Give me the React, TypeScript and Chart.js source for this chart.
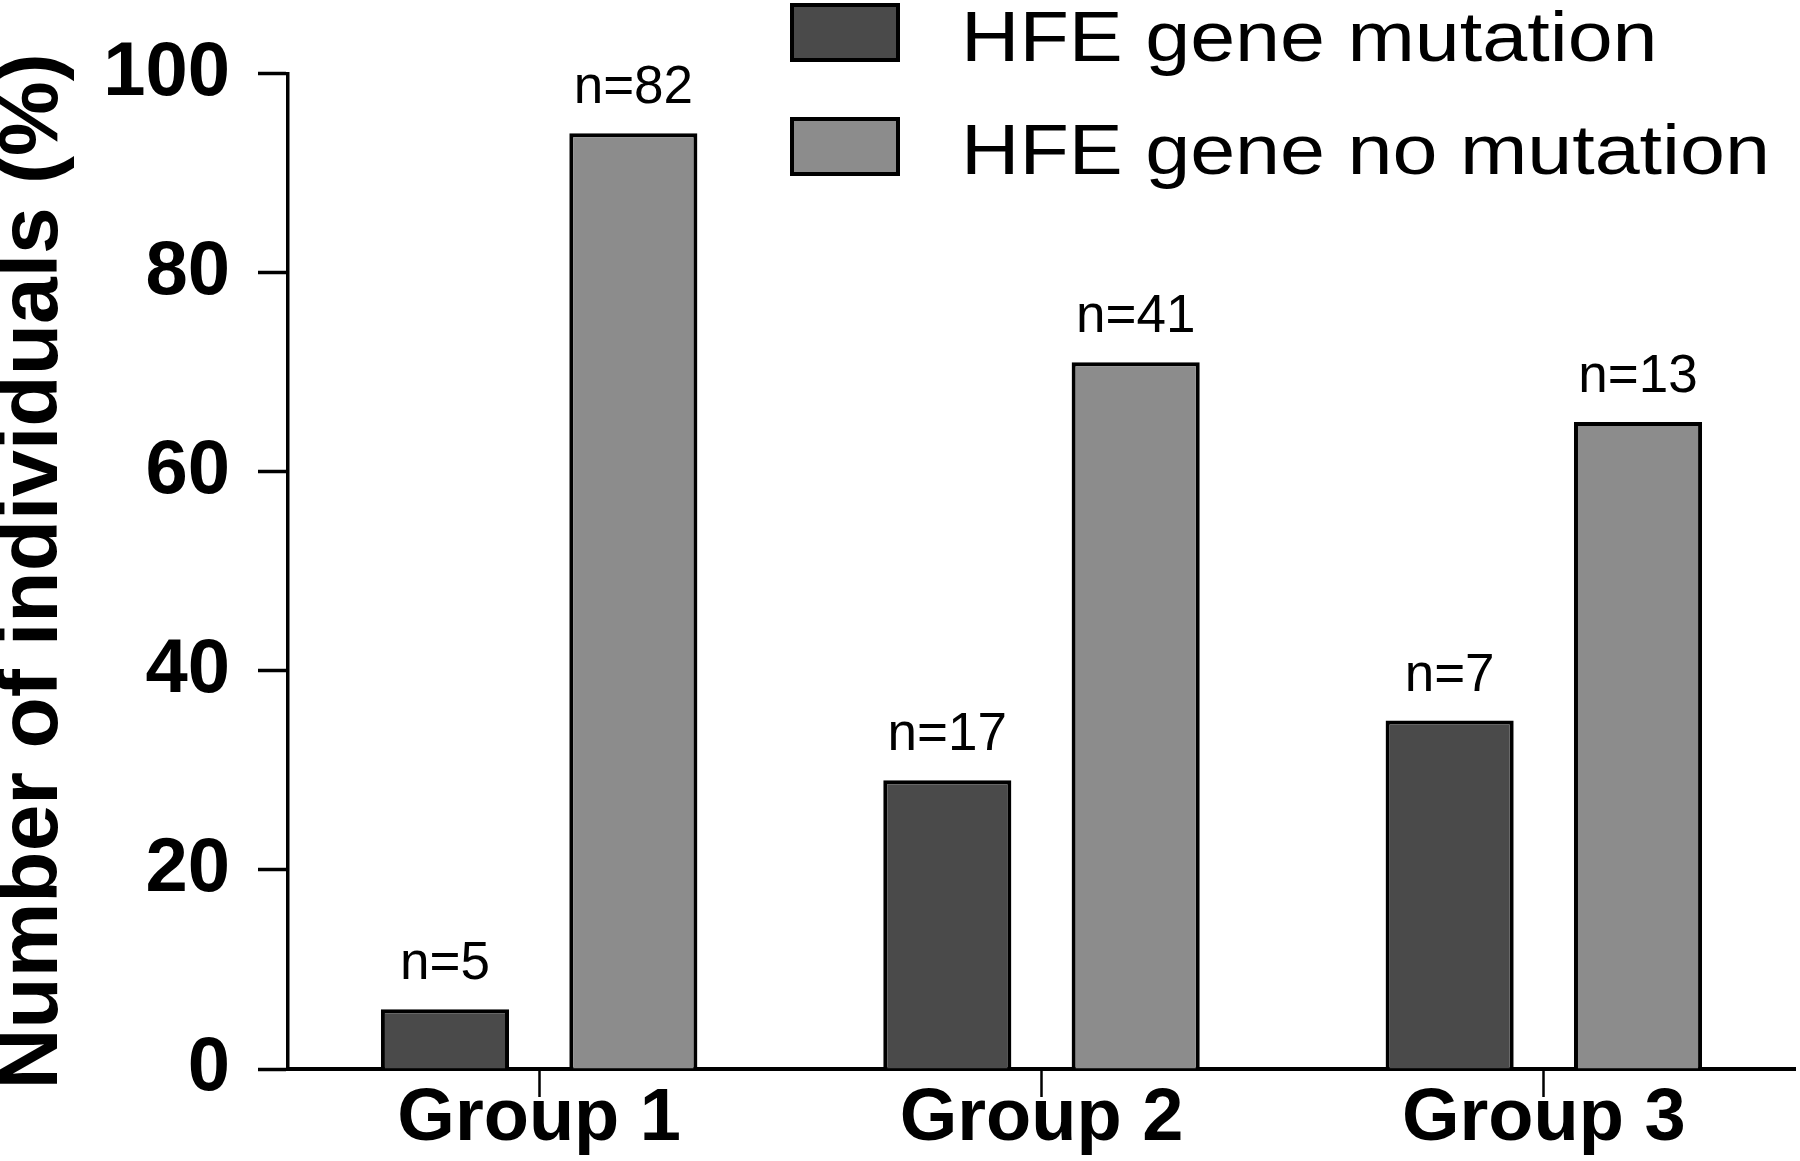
import React, { useEffect, useRef } from 'react';
import { Chart, registerables } from 'chart.js';

Chart.register(...registerables);

// data
const groups = ['Group 1', 'Group 2', 'Group 3'];
const mutationPct = [6, 29, 35];
const noMutationPct = [94, 71, 65];
const mutationN = [5, 17, 7];
const noMutationN = [82, 41, 13];
const seriesNames = ['HFE gene mutation', 'HFE gene no mutation'];
const yTicks = [0, 20, 40, 60, 80, 100];

const DARK = '#4a4a4a';
const LIGHT = '#8c8c8c';
const FONT = '"Liberation Sans", Arial, Helvetica, sans-serif';

// writes "n=.." above each bar, using the bar elements the library laid out
const countLabels = {
  id: 'countLabels',
  afterDatasetsDraw(chart: any) {
    const ctx = chart.ctx;
    const counts = [mutationN, noMutationN];
    ctx.save();
    ctx.font = `53px ${FONT}`;
    ctx.fillStyle = '#000';
    ctx.textAlign = 'center';
    ctx.textBaseline = 'alphabetic';
    chart.data.datasets.forEach((_ds: any, i: number) => {
      const meta = chart.getDatasetMeta(i);
      meta.data.forEach((bar: any, j: number) => {
        ctx.fillText('n=' + counts[i][j], bar.x, bar.y - 30);
      });
    });
    ctx.restore();
  },
};

const App = () => {
  const chartRef = useRef<HTMLCanvasElement | null>(null);
  const myChartRef = useRef<Chart | null>(null);

  useEffect(() => {
    if (myChartRef.current) {
      myChartRef.current.destroy();
    }

    const data = {
      labels: groups,
      datasets: [
        {
          label: seriesNames[0],
          data: mutationPct,
          backgroundColor: DARK,
          borderColor: '#000',
          borderWidth: 4,
        },
        {
          label: seriesNames[1],
          data: noMutationPct,
          backgroundColor: LIGHT,
          borderColor: '#000',
          borderWidth: 4,
        },
      ],
    };

    const options: any = {
      responsive: true,
      maintainAspectRatio: false,
      animation: false,
      devicePixelRatio: 1,
      layout: { padding: { top: 66, right: 5, bottom: 0, left: 0 } },
      categoryPercentage: 0.75,
      barPercentage: 0.68,
      plugins: {
        legend: { display: false },
        tooltip: { enabled: false },
      },
      scales: {
        x: {
          offset: true,
          grid: {
            offset: false,
            drawOnChartArea: false,
            drawTicks: true,
            tickLength: 28,
            tickWidth: 2.5,
            tickColor: '#000',
          },
          border: { color: '#000', width: 4 },
          ticks: {
            color: '#000',
            padding: 0,
            font: { family: FONT, size: 74, weight: 'bold', lineHeight: 0.6 },
          },
          afterFit: (scale: any) => {
            scale.height = 92;
          },
        },
        y: {
          min: 0,
          max: 100,
          afterBuildTicks: (scale: any) => {
            scale.ticks = yTicks.map((v) => ({ value: v }));
          },
          grid: {
            drawOnChartArea: false,
            drawTicks: true,
            tickLength: 30,
            tickWidth: 3.5,
            tickColor: '#000',
          },
          border: { color: '#000', width: 3.5 },
          ticks: {
            color: '#000',
            padding: 28,
            font: { family: FONT, size: 76, weight: 'bold' },
          },
          title: {
            display: true,
            text: 'Number of individuals (%)',
            color: '#000',
            padding: 0,
            font: { family: FONT, size: 84, weight: 'bold', lineHeight: 0.8 },
          },
          afterFit: (scale: any) => {
            scale.width = 288;
          },
        },
      },
    };

    if (chartRef.current) {
      myChartRef.current = new Chart(chartRef.current, {
        type: 'bar',
        data: data,
        options: options,
        plugins: [countLabels],
      });
    }

    return () => {
      if (myChartRef.current) {
        myChartRef.current.destroy();
      }
    };
  }, []);

  const colors = [DARK, LIGHT];

  return (
    <div
      style={{
        position: 'absolute',
        left: 0,
        top: 0,
        width: '1800px',
        height: '1161px',
        background: '#fff',
        fontFamily: FONT,
      }}
    >
      <canvas ref={chartRef} />
      {seriesNames.map((name, i) => (
        <div key={name}>
          <div
            style={{
              position: 'absolute',
              left: '790px',
              top: `${3 + i * 114}px`,
              width: '102px',
              height: '51px',
              background: colors[i],
              border: '4px solid #000',
            }}
          />
          <div
            style={{
              position: 'absolute',
              left: '961px',
              top: `${2 + i * 113}px`,
              fontSize: '70px',
              lineHeight: '70px',
              color: '#000',
              whiteSpace: 'nowrap',
              transform: 'scaleX(1.155)',
              transformOrigin: 'left top',
            }}
          >
            {name}
          </div>
        </div>
      ))}
    </div>
  );
};

export default App;
